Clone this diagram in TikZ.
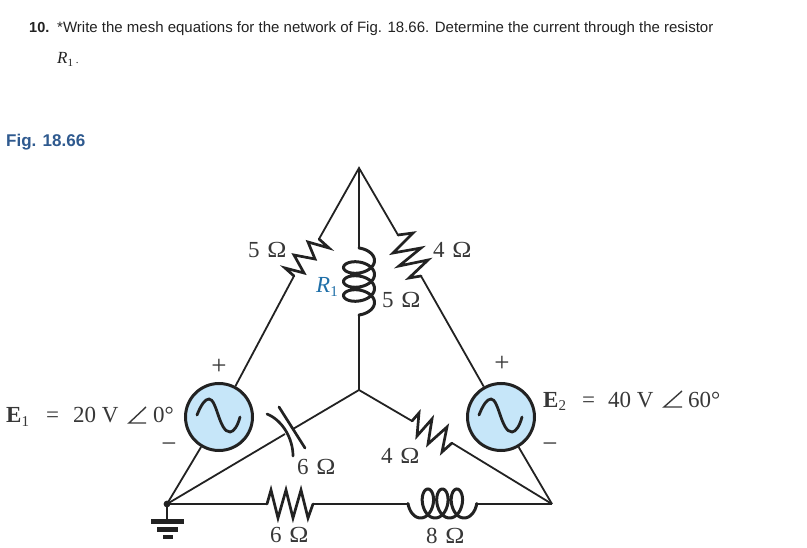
\documentclass[tikz,border=0pt]{standalone}
\usepackage{fontspec}
\setmainfont{Liberation Serif}
\newfontfamily\helv{Liberation Sans}
\definecolor{srcfill}{HTML}{C6E6F9}
\definecolor{figblue}{HTML}{2F5A8F}
\definecolor{rblue}{HTML}{1F6FA8}
\definecolor{ink}{HTML}{222222}
\definecolor{lab}{HTML}{383838}
\newcommand{\ohm}[1]{#1\hspace{0.33em}\scalebox{1.12}[1]{Ω}}
\tikzset{
 wire/.style={draw=ink,line width=1.8pt,line join=miter},
 comp/.style={draw=ink,line width=2.7pt,line join=miter,line cap=round},
 coil/.style={draw=ink,line width=3pt,line cap=round},
 src/.style={circle,draw=ink,fill=srcfill,line width=3pt,minimum size=67pt,inner sep=0pt},
 val/.style={anchor=base west,inner sep=0pt,text=lab,font=\fontsize{23}{24}\selectfont},
 sign/.style={anchor=base,inner sep=0pt,text=lab,font=\fontsize{27}{28}\selectfont},
 prose/.style={anchor=base west,inner sep=0pt,text=ink,font=\helv\fontsize{15}{16}\selectfont},
 bar/.style={fill=ink,draw=none}
}
\begin{document}
\begin{tikzpicture}[x=1pt,y=-1pt]
\useasboundingbox (0,0) rectangle (807,548);
\fill[white] (0,0) rectangle (807,548);
% junctions
\coordinate (top) at (359,168);
\coordinate (mid) at (359,390);
\coordinate (gnd) at (167,504);
\coordinate (rgt) at (552,504);
\coordinate (rAa) at (319,239);
\coordinate (rAb) at (294,276);
\coordinate (rBa) at (398,235);
\coordinate (rBb) at (421,276);
\coordinate (lAa) at (359,248);
\coordinate (lAb) at (359,315);
\coordinate (capA) at (293,429);
\coordinate (capB) at (285,434);
\coordinate (rCa) at (412,421);
\coordinate (rCb) at (452,443);
\coordinate (rDa) at (267,504);
\coordinate (rDb) at (313,504);
\coordinate (lBa) at (408,504);
\coordinate (lBb) at (477,504);
\coordinate (gt) at (167,521);
% sources
\node[src] (e1) at (219,417) {};
\node[src] (e2) at (501,417) {};
% wires
\draw[wire] (rAa) -- (top) -- (rBa);
\draw[wire] (top) -- (lAa);
\draw[wire] (lAb) -- (mid);
\draw[wire] (rAb) -- (e1);
\draw[wire] (rBb) -- (e2);
\draw[wire] (e1) -- (gnd);
\draw[wire] (e2) -- (rgt);
\draw[wire] (mid) -- (capA);
\draw[wire] (capB) -- (gnd);
\draw[wire] (mid) -- (rCa);
\draw[wire] (rCb) -- (rgt);
\draw[wire] (gnd) -- (rDa);
\draw[wire] (rDb) -- (lBa);
\draw[wire] (lBb) -- (rgt);
\draw[wire] (gnd) -- (gt);
% resistors
\draw[comp] (rAa) -- (329,248) -- (308,242) -- (315,259) -- (294,255) -- (304,273) -- (285,268) -- (rAb);
\draw[comp] (rBa) -- (413,233) -- (393,253) -- (421,248) -- (399,266) -- (428,260) -- (409,278) -- (rBb);
\draw[comp] (rCa) -- (419,413) -- (417,436) -- (432,419) -- (428,444) -- (447,427) -- (442,452) -- (rCb);
\draw[comp] (rDa) -- (271,490) -- (278,518) -- (286,490) -- (293,518) -- (301,490) -- (308,518) -- (rDb);
% inductors
\draw[coil] plot[domain=0:1260,samples=160,smooth] ({359+15.5*sin(\x)},{257+\x/360*14-9*cos(\x)});
\draw[coil] plot[domain=0:1260,samples=160,smooth] ({417+\x/360*14.5-9*cos(\x)},{503.5+14.5*sin(\x)});
% capacitor
\draw[comp] (279,407) -- (305,448);
\draw[comp] (267,414) .. controls (282,420) and (293,438) .. (293,456);
% sine waves
\draw[comp,line width=2.8pt] (197,415) .. controls (201,405) and (205,399) .. (209,399) .. controls (217,399) and (219,432) .. (230,432) .. controls (234,432) and (238,425) .. (240,417);
\draw[comp,line width=2.8pt] (479,415) .. controls (483,405) and (487,399) .. (491,399) .. controls (499,399) and (501,432) .. (512,432) .. controls (516,432) and (520,425) .. (522,417);
% ground
\fill[ink] (gnd) circle (3.4pt);
\fill[bar] (151,519) rectangle (184,524);
\fill[bar] (157,527) rectangle (178,532);
\fill[bar] (163,535) rectangle (173,539);
% text
\node[prose,font=\helv\bfseries\fontsize{14.5}{16}\selectfont] (num) at (29,33) {10.};
\node[prose] (q) at (57,33) {*Write the mesh equations for the network of Fig. 18.66. Determine the current through the resistor};
\node[anchor=base west,inner sep=0pt,text=ink,font=\fontsize{17}{18}\selectfont] (rq) at (57,64) {\textit{R}\raisebox{-2.5pt}{\fontsize{11}{11}\selectfont 1}\,\raisebox{0pt}{\fontsize{11}{11}\selectfont .}};
\node[prose,font=\helv\bfseries\fontsize{17}{18}\selectfont,text=figblue] (fig) at (6,147) {Fig. 18.66};
\node[val] (t5a) at (248,258) {\ohm{5}};
\node[val] (t4a) at (433,258) {\ohm{4}};
\node[val] (t5b) at (382,308) {\ohm{5}};
\node[val,text=rblue] (tr) at (316,293) {\textit{R}\raisebox{-4pt}{\fontsize{15}{15}\selectfont 1}};
\node[val] (t6a) at (297,475) {\ohm{6}};
\node[val] (t6b) at (270,542) {\ohm{6}};
\node[val] (t4b) at (381,464) {\ohm{4}};
\node[val] (t8) at (426,543) {\ohm{8}};
\node[sign] (pa) at (219,375) {+};
\node[sign] (pb) at (502,372) {+};
\node[sign] (ma) at (169,453) {−};
\node[sign] (mb) at (550,453) {−};
\node[val] (ea) at (6,423) {\textbf{E}\raisebox{-4pt}{\fontsize{15}{15}\selectfont 1}};
\node[val] (eqa) at (46,423) {=};
\node[val] (va) at (73,423) {20 V};
\node[val] (ang) at (153,423) {0°};
\draw[lab,line width=1.4pt] (146,407) -- (129,423) -- (146,423);
\node[val] (eb) at (543,407) {\textbf{E}\raisebox{-4pt}{\fontsize{15}{15}\selectfont 2}};
\node[val] (eqb) at (582,407) {=};
\node[val] (vb) at (608,407) {40 V};
\node[val] (bng) at (688,407) {60°};
\draw[lab,line width=1.4pt] (682,391) -- (664,407) -- (682,407);
\end{tikzpicture}
\end{document}
